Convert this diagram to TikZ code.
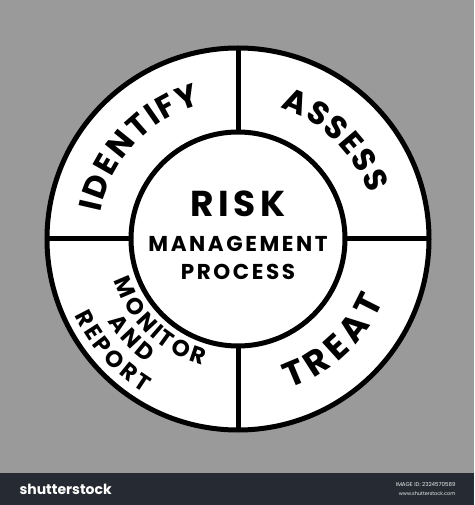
\documentclass[tikz,border=0pt]{standalone}
\usepackage{fontspec}
\setmainfont{Poppins}
\newfontfamily\hubfont{Poppins}[LetterSpace=12]
\usetikzlibrary{decorations.text}
\definecolor{bggray}{HTML}{9A9A9A}
\definecolor{barblue}{HTML}{262B33}
\begin{document}
\begin{tikzpicture}[x=1pt, y=1pt, line join=round, line cap=round,
	ring/.style={line width=5pt},
	arctext/.style 2 args={decorate, decoration={text effects along path, text={#2},
		text effects/.cd, text along path, fit text to path,
		characters={inner sep=0pt, font=\fontsize{#1}{#1}\selectfont\bfseries}}}]
	\def\xl{-238} \def\xr{236} \def\yb{-266} \def\yt{239}
	\useasboundingbox (\xl,\yb) rectangle (\xr,\yt);
	\fill[bggray] (\xl,\yb) rectangle (\xr,\yt);
	\fill[barblue] (\xl,\yb) rectangle (\xr,-234);
	% wheel
	\node[circle, draw, ring, fill=white, outer sep=0pt, inner sep=0pt, minimum size=382pt] (rim) at (0,0) {};
	\node[circle, draw, ring, fill=white, outer sep=0pt, inner sep=0pt, minimum size=214pt] (hub) at (0,0) {};
	\foreach \a in {north,east,south,west}
	\draw[ring, line cap=butt] (hub.\a) -- (rim.\a);
	% centre
	\node[anchor=base, font=\hubfont\fontsize{36}{36}\selectfont\bfseries] (risk) at (0,22.5) {RISK};
	\node[anchor=base, font=\hubfont\fontsize{21.5}{21.5}\selectfont\bfseries] (mgmt) at (0,-12.5) {MANAGEMENT};
	\node[anchor=base, font=\hubfont\fontsize{21.5}{21.5}\selectfont\bfseries] (proc) at (0,-41) {PROCESS};
	% ring labels
	\path[arctext={32}{IDENTIFY}] (169:140) arc[start angle=169, end angle=105.5, radius=140];
	\path[arctext={32}{ASSESS}] (72:138) arc[start angle=72, end angle=19, radius=138];
	\path[arctext={35}{TREAT}] (-71:158) arc[start angle=-71, end angle=-23, radius=158];
	\path[arctext={23}{MONITOR}] (198.5:131) arc[start angle=198.5, end angle=254.5, radius=131];
	\path[arctext={23}{AND}] (212.5:154) arc[start angle=212.5, end angle=233.5, radius=154];
	\path[arctext={23}{REPORT}] (205:180) arc[start angle=205, end angle=238.5, radius=180];
	% footer
	\node[anchor=west, text=white, font=\fontsize{14}{14}\selectfont\bfseries] (logo) at (-222,-250) {shutterstock};
	\node[anchor=east, text=white!85!gray, font=\fontsize{5.5}{5.5}\selectfont] (imgid) at (221,-245.5) {IMAGE ID: 2324570589};
	\node[anchor=east, text=white!85!gray, font=\fontsize{5}{5}\selectfont] (www) at (221,-254.5) {www.shutterstock.com};
\end{tikzpicture}
\end{document}
